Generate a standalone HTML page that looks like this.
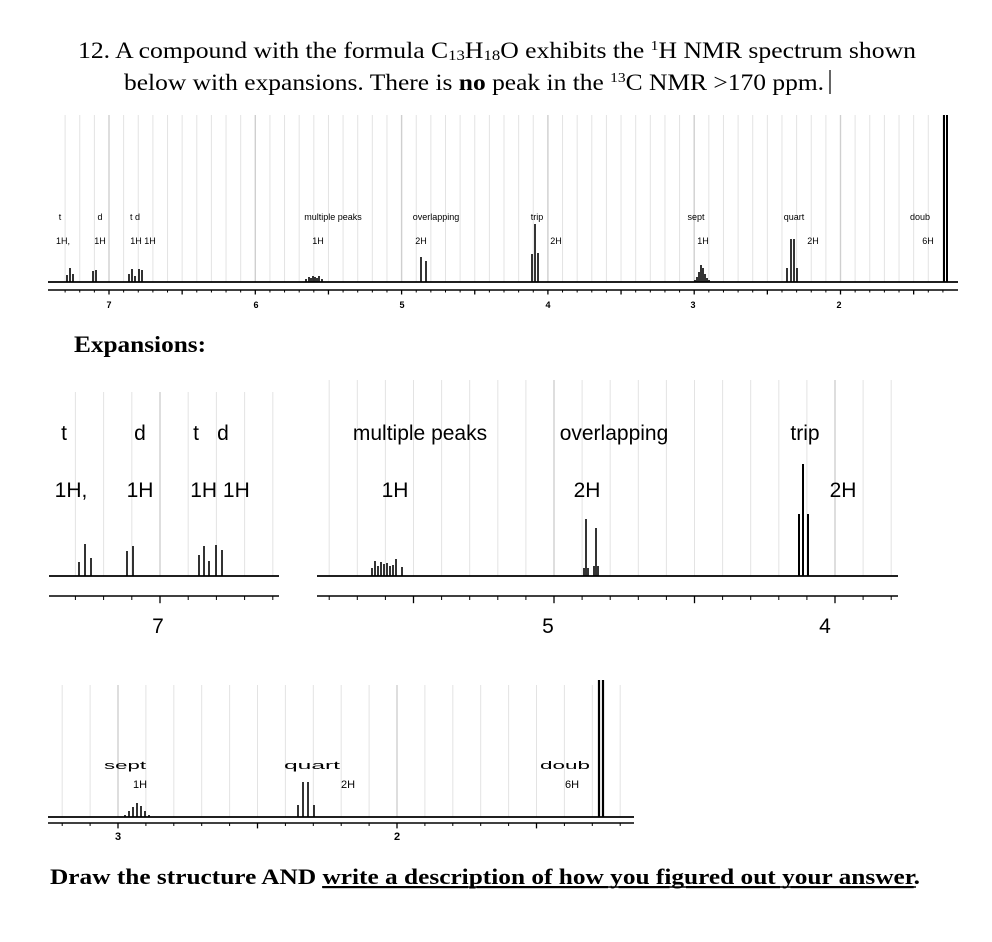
<!DOCTYPE html>
<html><head><meta charset="utf-8"><style>
html,body{margin:0;padding:0;background:#fff;}
svg{display:block}
.s{font-family:"Liberation Serif",serif;fill:#000}
.a{font-family:"Liberation Sans",sans-serif;fill:#000}
</style></head><body>
<svg id="sv" width="992" height="942" viewBox="0 0 992 942" xmlns="http://www.w3.org/2000/svg">
<rect width="992" height="942" fill="#fff"/>
<g id="grid"></g>
<g id="peaks" stroke="#000" stroke-width="1.6" fill="none"></g>
<!-- Title -->
<text class="s" x="78" y="58" font-size="23" textLength="838" lengthAdjust="spacingAndGlyphs">12. A compound with the formula C<tspan font-size="15" dy="2">13</tspan><tspan dy="-2">H</tspan><tspan font-size="15" dy="2">18</tspan><tspan dy="-2">O exhibits the </tspan><tspan font-size="14" dy="-8">1</tspan><tspan dy="8">H NMR spectrum shown</tspan></text>
<text class="s" x="124" y="90" font-size="23" textLength="700" lengthAdjust="spacingAndGlyphs">below with expansions. There is <tspan font-weight="bold">no</tspan> peak in the <tspan font-size="14" dy="-8">13</tspan><tspan dy="8">C NMR &gt;170 ppm.</tspan></text>
<line x1="830" y1="70" x2="830" y2="94" stroke="#000" stroke-width="1.2"/>
<text class="s" x="74" y="352" font-size="23" font-weight="bold" textLength="132" lengthAdjust="spacingAndGlyphs">Expansions:</text>
<text class="s" x="50" y="884" font-size="22" font-weight="bold" textLength="870" lengthAdjust="spacingAndGlyphs">Draw the structure AND <tspan text-decoration="underline">write a description of how you figured out your answer</tspan>.</text>
<line x1="322" y1="887" x2="916" y2="887" stroke="#000" stroke-width="1.5"/>

<!-- Top labels -->
<g class="a" font-size="9" text-anchor="middle">
<text x="60" y="220">t</text><text x="100" y="220">d</text><text x="135" y="220">t d</text>
<text x="63" y="244">1H,</text><text x="100" y="244">1H</text><text x="143" y="244">1H 1H</text>
<text x="333" y="220">multiple peaks</text><text x="318" y="244">1H</text>
<text x="436" y="220">overlapping</text><text x="421" y="244">2H</text>
<text x="537" y="220">trip</text><text x="556" y="244">2H</text>
<text x="696" y="220">sept</text><text x="703" y="244">1H</text>
<text x="794" y="220">quart</text><text x="813" y="244">2H</text>
<text x="920" y="220">doub</text><text x="928" y="244">6H</text>
</g>
<g class="a" font-size="9" font-weight="bold" text-anchor="middle">
<text x="109" y="308">7</text><text x="256" y="308">6</text><text x="402" y="308">5</text><text x="548" y="308">4</text><text x="693" y="308">3</text><text x="839" y="308">2</text>
</g>
<!-- Expansion 1/2 labels -->
<g class="a" font-size="21" text-anchor="middle">
<text x="64" y="440">t</text><text x="140" y="440">d</text><text x="196" y="440">t</text><text x="223" y="440">d</text>
<text x="71" y="497">1H,</text><text x="140" y="497">1H</text><text x="220" y="497">1H 1H</text>
<text x="420" y="440">multiple peaks</text><text x="395" y="497">1H</text>
<text x="614" y="440">overlapping</text><text x="587" y="497">2H</text>
<text x="805" y="440">trip</text><text x="843" y="497">2H</text>
<text x="158" y="633">7</text><text x="548" y="633">5</text><text x="825" y="633">4</text>
</g>
<!-- Expansion 3 labels -->
<g class="a" font-size="11" text-anchor="middle" fill="#333">
<text x="125" y="769" textLength="42" lengthAdjust="spacingAndGlyphs">sept</text>
<text x="140" y="788">1H</text>
<text x="312" y="769" textLength="56" lengthAdjust="spacingAndGlyphs">quart</text>
<text x="348" y="788">2H</text>
<text x="565" y="769" textLength="50" lengthAdjust="spacingAndGlyphs">doub</text>
<text x="572" y="788">6H</text>
<text x="118" y="840" font-weight="bold">3</text>
<text x="397" y="840" font-weight="bold">2</text>
</g>
</svg>
<script>
(function(){
var NS="http://www.w3.org/2000/svg";
var g=document.getElementById('grid'),p=document.getElementById('peaks');
function L(par,x1,y1,x2,y2,c,w){var l=document.createElementNS(NS,'line');l.setAttribute('x1',x1);l.setAttribute('y1',y1);l.setAttribute('x2',x2);l.setAttribute('y2',y2);l.setAttribute('stroke',c);l.setAttribute('stroke-width',w);par.appendChild(l);}
function panel(xa,xb,base,axis,top,rx,rp,pp,tk){
  var i;
  for(i=-60;i<=60;i++){var x=rx+i*pp/10;if(x<xa+4||x>xb-2)continue;
    var major=(i%10===0);
    L(g,x,top,x,base,major?'#cfcfcf':'#e3e3e3',major?1.4:1);
    var half=(i%5===0);
    L(g,x,axis,x,axis+(half?tk*1.8:tk),'#000',half?1.3:1);
  }
  L(g,xa,base,xb,base,'#000',1.8);
  L(g,xa,axis,xb,axis,'#000',1.6);
}
panel(48,958,282,290,115,109,7,146.3,2.5);
panel(49,279,576,596,392,160,7,282,4);
panel(317,898,576,596,380,554,5,281,4);
panel(48,634,817,823,685,118,3,279,3);
function pk(list,base){list.forEach(function(a){L(p,a[0],base,a[0],base-a[1],'#000',a[2]||1.6);});}
pk([[67,7],[70,14],[73,8],[93,11],[96,12],[129,8],[132,13],[135,6],[139,13],[142,12],
[306,3],[309,5],[311,4],[313,6],[315,5],[317,4],[319,6],[322,3],
[421,25],[426,21],[532,28],[535,58],[538,29],
[695,2],[697,5],[699,10],[701,17],[703,14],[705,8],[707,4],[709,2],
[787,14],[791,43],[794,43],[797,14],[944,167,2],[947,167,2]],282);
pk([[79,14],[85,32],[91,18],[127,25],[133,30],[199,21],[204,30],[209,15],[216,31],[222,26]],576);
pk([[372,8],[375,15],[378,10],[381,14],[384,12],[387,13],[390,10],[393,11],[396,17],[402,9],
[586,57],[596,48],[584,8],[588,8],[594,10],[598,10],
[799,62,2],[803,112,2],[808,62,2]],576);
pk([[125,2],[129,6],[133,10],[137,14],[141,11],[145,6],[149,2],
[298,12],[303,35],[308,35],[314,12],[599,137,2.2],[603,137,2.2]],817);
})();
</script>
</body></html>
